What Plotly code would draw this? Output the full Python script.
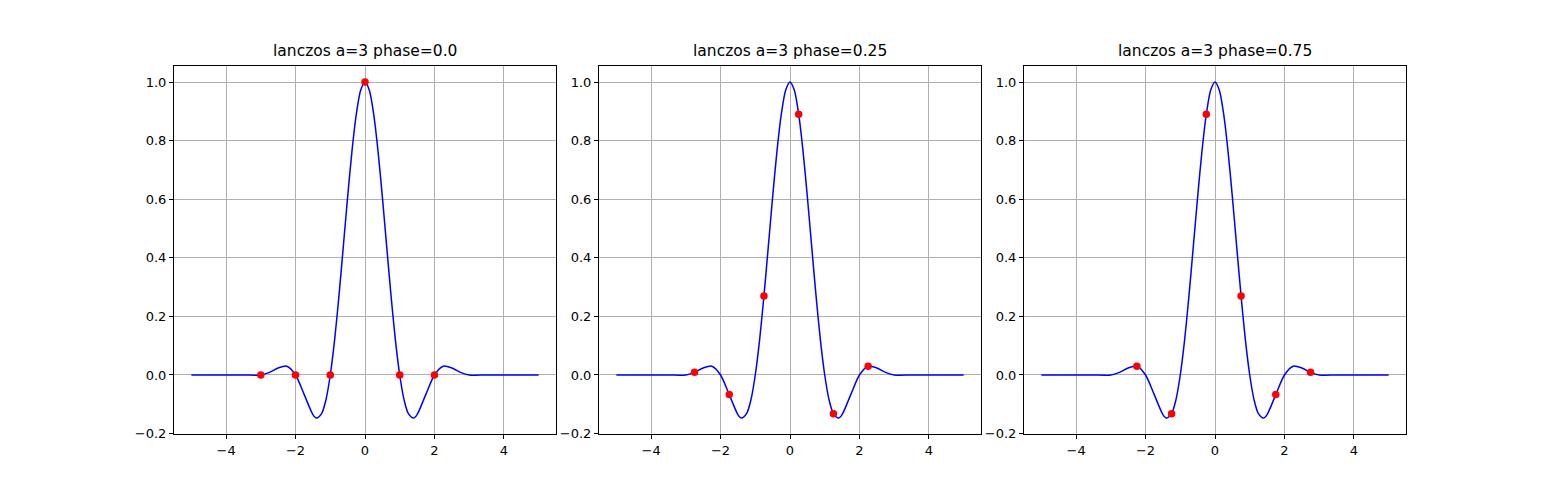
import plotly.graph_objects as go

# kernel curve
curve_x = [-5, -4, -3.5, -3, -2.75, -2.5, -2.25, -2, -1.75, -1.5, -1.4, -1.25, -1.125, -1, -0.875, -0.75,
           -0.625, -0.5, -0.375, -0.25, -0.125, 0, 0.125, 0.25, 0.375, 0.5, 0.625, 0.75, 0.875, 1, 1.125,
           1.25, 1.4, 1.5, 1.75, 2, 2.25, 2.5, 2.75, 3, 3.5, 4, 5]
curve_y = [0, 0, 0, 0, 0.009, 0.024, 0.030, 0, -0.067, -0.135, -0.147, -0.132, -0.085, 0, 0.120, 0.270,
           0.438, 0.608, 0.764, 0.890, 0.972, 1.0, 0.972, 0.890, 0.764, 0.608, 0.438, 0.270, 0.120, 0, -0.085,
           -0.132, -0.147, -0.135, -0.067, 0, 0.030, 0.024, 0.009, 0, 0, 0, 0]

titles = ["lanczos a=3 phase=0.0", "lanczos a=3 phase=0.25", "lanczos a=3 phase=0.75"]
pts_x = [
    [-3, -2, -1, 0, 1, 2],
    [-2.75, -1.75, -0.75, 0.25, 1.25, 2.25],
    [-2.25, -1.25, -0.25, 0.75, 1.75, 2.75],
]
pts_y = [
    [0, 0, 0, 1.0, 0, 0],
    [0.009, -0.067, 0.270, 0.890, -0.132, 0.030],
    [0.030, -0.132, 0.890, 0.270, -0.067, 0.009],
]

W = 1232
domains = [(0, 382 / W), (425 / W, 807 / W), (850 / W, 1)]

fig = go.Figure()
annotations = []
for i in range(3):
    sfx = "" if i == 0 else str(i + 1)
    fig.add_trace(go.Scatter(x=curve_x, y=curve_y, mode="lines", line=dict(color="blue", width=1.5, shape="spline", smoothing=0.8),
                             xaxis="x" + sfx, yaxis="y" + sfx, showlegend=False))
    fig.add_trace(go.Scatter(x=pts_x[i], y=pts_y[i], mode="markers", marker=dict(color="red", size=7.5),
                             xaxis="x" + sfx, yaxis="y" + sfx, showlegend=False))
    common = dict(showgrid=True, gridcolor="#b0b0b0", gridwidth=0.8, zeroline=False,
                  showline=True, linecolor="black", mirror=True, ticks="outside", ticklen=4,
                  tickcolor="black", tickfont=dict(size=13, color="black"))
    fig.layout["xaxis" + sfx] = dict(domain=domains[i], range=[-5.5, 5.5], tickvals=[-4, -2, 0, 2, 4],
                                     ticktext=["\u22124", "\u22122", "0", "2", "4"],
                                     anchor="y" + sfx, **common)
    fig.layout["yaxis" + sfx] = dict(domain=[0, 1], range=[-0.2014, 1.0546], tickvals=[-0.2, 0, 0.2, 0.4, 0.6, 0.8, 1.0],
                                     ticktext=["\u22120.2", "0.0", "0.2", "0.4", "0.6", "0.8", "1.0"],
                                     anchor="x" + sfx, **common)
    annotations.append(dict(text=titles[i], x=sum(domains[i]) / 2, y=1, xref="paper", yref="paper",
                            xanchor="center", yanchor="bottom", yshift=4, showarrow=False,
                            font=dict(size=15.5, color="black")))

fig.update_layout(width=1554, height=480, margin=dict(l=166, r=156, t=58, b=54),
                  plot_bgcolor="white", paper_bgcolor="white",
                  font=dict(family="DejaVu Sans"), annotations=annotations)

fig.write_html("out.html")
